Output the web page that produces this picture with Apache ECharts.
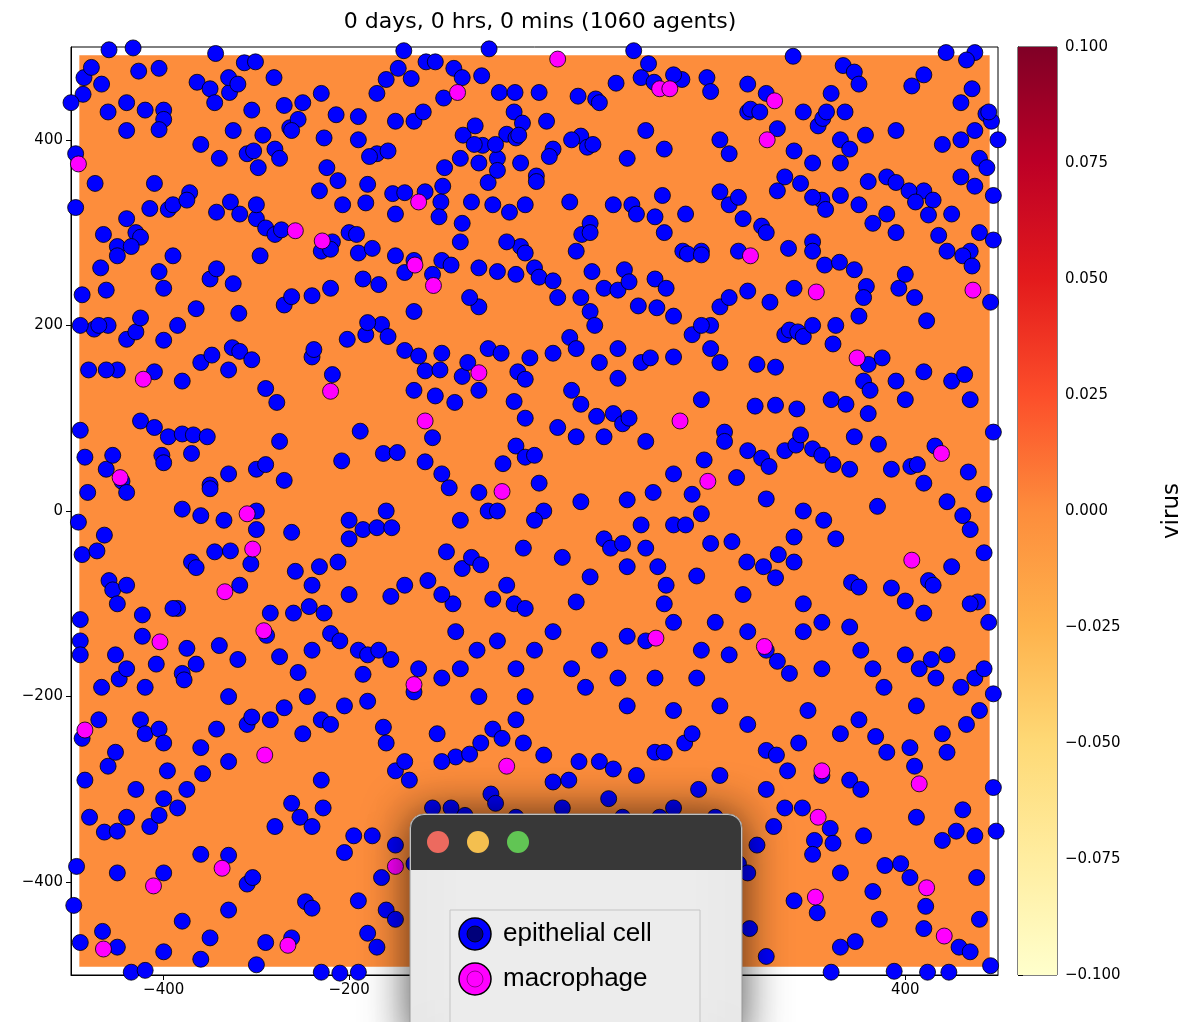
<!DOCTYPE html>
<html lang="en">
<head>
  <meta charset="UTF-8">
  <title>agents</title>
  <script src="https://cdn.jsdelivr.net/npm/echarts@6/dist/echarts.min.js"></script>
  <style>body{margin:0;background:#fff}</style>
</head>
<body>
  <div id="main" style="width:1194px;height:1022px"></div>
  <script>
    // 数据
    const titleText = '0 days, 0 hrs, 0 mins (1060 agents)'
    const axisTicks = [-400, -200, 0, 200, 400]
    const virusTicks = [-0.1, -0.075, -0.05, -0.025, 0, 0.025, 0.05, 0.075, 0.1]
    const fieldExtent = [-491, 491]
    const fieldValue = 0
    const legendNames = ['epithelial cell', 'macrophage']

    const macrophages = [[25,487],[-83,451],[135,455],[146,455],[259,442],[251,400],[-492,374],[-125,333],[-258,302],[-229,291],[-129,265],[-109,243],[233,275],[304,236],[473,238],[-422,142],[-220,129],[-60,149],[348,165],[-118,97],[157,97],[439,62],[-447,36],[-35,21],[187,32],[-310,-3],[-304,-41],[407,-53],[-334,-87],[-404,-141],[-292,-129],[131,-137],[248,-146],[-130,-187],[-485,-236],[-291,-263],[-30,-275],[310,-280],[415,-294],[306,-330],[-150,-383],[-337,-385],[-411,-404],[423,-406],[303,-416],[442,-458],[-465,-472],[-266,-468]]

    const epithelial = [
      // 400..500
      [-459,497],[-433,499],[-344,493],[-141,496],[-117,484],[-49,498],[107,496],[123,482],[279,490],[444,494],[475,494],[466,486],[-486,467],[-487,449],[-467,460],[-427,474],[-405,477],[-364,462],[-350,455],[-329,451],[-281,467],[-313,483],[-301,484],[-147,477],[-133,466],[-107,484],[-87,477],[-78,467],[-57,469],[-38,451],[-21,451],[5,451],[47,447],[66,444],[70,440],[88,461],[115,467],[129,462],[159,465],[186,467],[230,430],[233,433],[243,430],[262,412],[280,388],[306,415],[311,423],[315,430],[335,430],[330,400],[357,405],[333,480],[345,473],[407,458],[472,455],[460,440],[475,410],[487,428],[493,420],[-460,430],[-420,432],[-400,432],[-400,422],[-405,411],[-345,440],[-305,432],[-270,437],[-264,413],[-293,405],[-280,390],[-325,410],[-227,402],[-214,427],[-150,420],[-130,420],[-120,430],[-98,445],[-22,430],[-13,418],[13,420],[50,404],[57,392],[63,395],[-77,405],[-56,394],[-64,415],[-30,406],[-20,402],[-190,425],[-170,450],[-160,465],[-440,410],[-440,440],[-500,440],[-495,385],[-478,478],[-230,450],[-250,440],[-255,422],[-330,467],[-320,460],[190,452],[150,470],[230,460],[250,450],[290,430],[320,450],[350,460],[390,410],[420,470],[440,395],[460,400],[480,380],[500,400],[-360,395],[-340,380],[-310,385],[-190,400],[-170,385],[-80,380],[-60,375],[-40,380],[20,390],[40,400],[100,380],[120,410],[140,390],[200,400],[210,385],[300,375],[270,360],[310,335],[330,375],[340,390],[360,355],[380,360],[420,345],[430,335],[450,320],[470,280],[480,300],[495,340],[490,430],
      // 300..400
      [-495,327],[-488,233],[-474,353],[-465,298],[-468,262],[-462,238],[-450,285],[-430,300],[-440,315],[-425,295],[-415,326],[-410,353],[-395,325],[-390,330],[-372,343],[-375,335],[-343,322],[-328,333],[-318,320],[-300,315],[-290,305],[-280,298],[-273,303],[-298,370],[-303,388],[-275,380],[-262,410],[-232,345],[-207,330],[-218,290],[-224,370],[-212,356],[-182,332],[-180,352],[-178,382],[-158,388],[-153,342],[-140,343],[-118,344],[-99,350],[-97,370],[-101,333],[-103,317],[-78,310],[-68,333],[-45,330],[-27,322],[-50,354],[-40,367],[-17,405],[2,361],[2,355],[-65,395],[-42,395],[-15,375],[16,382],[38,333],[51,298],[60,310],[85,330],[105,330],[110,320],[130,317],[140,300],[163,320],[138,340],[200,344],[210,330],[220,338],[225,315],[245,307],[262,345],[287,353],[300,338],[314,325],[330,340],[350,330],[365,310],[380,320],[390,354],[404,345],[411,333],[425,319],[460,360],[475,350],[488,370],[495,292],[390,300],[300,290],[250,300],[160,280],[180,280],[60,300],[-10,330],[-80,290],[-130,270],[-150,320],[-200,300],[-230,280],[-300,330],
      // 200..300
      [-475,196],[-490,200],[-460,200],[-450,275],[-435,285],[-405,258],[-400,240],[-390,275],[-365,218],[-350,250],[-343,261],[-325,245],[-319,213],[-296,275],[-270,222],[-262,231],[-240,232],[-220,282],[-190,278],[-192,298],[-175,283],[-185,250],[-168,244],[-165,201],[-150,275],[-140,257],[-110,255],[-100,270],[-90,265],[-60,262],[-40,258],[-20,255],[-15,285],[-30,290],[-10,278],[0,262],[5,252],[20,248],[25,230],[45,280],[62,258],[75,240],[90,238],[97,260],[102,247],[112,221],[132,219],[130,250],[142,240],[150,210],[165,277],[180,276],[200,220],[210,230],[220,280],[230,237],[254,225],[274,283],[280,240],[300,280],[313,265],[329,268],[345,260],[358,242],[355,230],[393,240],[400,255],[410,230],[423,205],[436,297],[445,280],[462,275],[472,264],[492,225],[190,200],[270,190],[325,200],[350,210],[-130,215],[-220,240],[-60,220],[60,215],[-70,230],
      // 100..200
      [-470,200],[-450,152],[-481,152],[-462,152],[-440,185],[-430,193],[-425,208],[-410,150],[-400,184],[-380,140],[-385,200],[-360,160],[-348,168],[-326,176],[-318,172],[-330,152],[-305,163],[-290,132],[-278,117],[-240,166],[-238,174],[-218,147],[-202,185],[-182,190],[-180,203],[-158,188],[-140,173],[-125,167],[-118,151],[-102,152],[-107,124],[-86,117],[-100,170],[-78,145],[-72,160],[-50,175],[-36,170],[-18,150],[-10,142],[-5,165],[-22,118],[-10,100],[20,170],[38,187],[50,230],[65,200],[45,175],[40,130],[50,115],[67,102],[70,160],[90,143],[90,175],[115,160],[125,165],[150,166],[170,190],[180,200],[190,175],[200,160],[240,158],[260,155],[275,195],[284,193],[290,188],[300,200],[322,180],[355,140],[360,158],[375,165],[360,105],[283,110],[260,114],[238,113],[320,120],[336,115],[362,130],[390,140],[420,150],[450,140],[464,147],[470,120],[400,120],[180,120],[-130,130],[-60,130],
      // 0..100
      [-490,87],[-485,58],[-462,45],[-445,32],[-440,20],[-455,60],[-425,97],[-410,90],[-402,60],[-400,52],[-395,80],[-380,83],[-370,62],[-368,82],[-353,80],[-350,28],[-350,24],[-330,40],[-300,45],[-290,50],[-275,75],[-270,33],[-208,54],[-188,86],[-163,62],[-148,63],[-110,79],[-118,53],[-100,40],[-92,25],[-60,20],[-50,0],[-34,51],[-20,70],[-10,58],[0,60],[5,30],[10,0],[25,90],[45,80],[75,80],[85,105],[95,94],[102,100],[120,75],[128,20],[150,40],[170,18],[183,55],[205,85],[205,75],[218,36],[230,65],[245,57],[253,48],[270,65],[282,71],[287,82],[300,67],[310,60],[322,50],[340,45],[345,80],[371,72],[385,45],[406,48],[413,50],[420,30],[432,70],[445,10],[468,42],[495,85],[485,18],[462,-5],[-482,20],[-492,-12],[-380,2],[-300,0],[-200,-10],[-160,0],[-80,-10],[-40,0],[50,10],[100,12],[180,-3],[250,13],[370,5],[290,0],
      // -100..0
      [-488,-47],[-472,-43],[-490,-117],[-464,-26],[-459,-75],[-455,-85],[-440,-80],[-423,-112],[-385,-105],[-370,-55],[-365,-61],[-360,-5],[-335,-10],[-345,-44],[-328,-43],[-318,-80],[-306,-57],[-300,-20],[-262,-23],[-258,-65],[-240,-80],[-243,-103],[-232,-60],[-227,-110],[-212,-55],[-200,-30],[-185,-20],[-170,-18],[-154,-18],[-155,-92],[-140,-80],[-115,-75],[-95,-44],[-88,-100],[-78,-62],[-68,-50],[-58,-58],[-45,-95],[-30,-80],[-22,-100],[-12,-40],[-10,-105],[30,-50],[45,-98],[60,-71],[75,-30],[82,-40],[95,-35],[100,-60],[115,-15],[120,-40],[133,-60],[142,-80],[150,-15],[163,-15],[175,-70],[190,-35],[213,-33],[229,-55],[247,-60],[263,-47],[260,-72],[280,-28],[280,-55],[290,-100],[312,-10],[325,-30],[342,-77],[350,-82],[385,-83],[400,-97],[420,-110],[425,-75],[430,-80],[450,-60],[470,-20],[478,-98],[485,-45],[470,-100],[225,-90],[140,-100],[0,-10],[-100,-90],[-200,-90],[-260,-110],
      // -200..-100
      [-490,-140],[-490,-155],[-467,-190],[-452,-155],[-448,-181],[-440,-170],[-423,-135],[-408,-165],[-390,-105],[-380,-175],[-378,-182],[-375,-148],[-365,-165],[-340,-145],[-320,-160],[-289,-134],[-285,-110],[-275,-157],[-255,-174],[-240,-150],[-220,-132],[-210,-140],[-190,-150],[-185,-176],[-180,-155],[-168,-150],[-155,-160],[-130,-195],[-125,-170],[-100,-180],[-80,-170],[-85,-130],[-62,-150],[-40,-140],[-20,-170],[-10,-200],[0,-150],[20,-130],[40,-170],[55,-190],[70,-150],[90,-180],[100,-135],[120,-140],[150,-120],[175,-180],[180,-150],[195,-120],[210,-155],[230,-130],[250,-150],[262,-162],[275,-175],[290,-130],[310,-120],[340,-125],[352,-150],[365,-170],[377,-190],[400,-155],[415,-170],[428,-160],[433,-180],[445,-155],[460,-190],[475,-180],[485,-170],[490,-120],[-450,-100],[-420,-190],[-330,-200],[-60,-200],[130,-180],[310,-170],
      // -300..-200
      [-488,-245],[-485,-290],[-460,-275],[-452,-260],[-430,-300],[-425,-225],[-420,-240],[-405,-235],[-400,-250],[-396,-280],[-400,-310],[-375,-300],[-360,-255],[-358,-283],[-343,-235],[-330,-270],[-310,-230],[-305,-222],[-285,-225],[-270,-212],[-250,-240],[-245,-200],[-230,-225],[-220,-230],[-205,-210],[-163,-233],[-160,-250],[-150,-280],[-140,-270],[-135,-290],[-105,-240],[-85,-265],[-70,-262],[-58,-250],[-45,-235],[-35,-245],[-20,-225],[-12,-250],[10,-263],[20,-292],[37,-290],[48,-270],[70,-270],[85,-278],[110,-285],[130,-260],[140,-260],[162,-250],[170,-240],[200,-210],[230,-230],[250,-258],[261,-263],[273,-280],[285,-250],[295,-215],[310,-285],[330,-240],[350,-225],[368,-243],[380,-260],[405,-255],[410,-275],[412,-210],[440,-240],[445,-260],[466,-230],[480,-215],[495,-197],[-230,-290],[-100,-270],[100,-210],[150,-215],[-180,-205],[340,-290],[200,-285],[-470,-225],
      // -400..-300
      [-494,-383],[-480,-330],[-464,-346],[-450,-345],[-440,-330],[-415,-340],[-405,-328],[-385,-320],[-360,-370],[-330,-371],[-310,-402],[-304,-395],[-280,-340],[-262,-315],[-253,-330],[-240,-340],[-228,-320],[-205,-368],[-195,-350],[-175,-350],[-165,-395],[-150,-360],[-130,-380],[-118,-358],[-110,-320],[-90,-320],[-75,-328],[-60,-345],[-47,-305],[-42,-315],[-20,-330],[-10,-345],[30,-320],[60,-340],[80,-310],[95,-330],[100,-360],[120,-348],[135,-330],[150,-320],[177,-300],[195,-330],[210,-360],[220,-380],[230,-390],[240,-360],[258,-340],[270,-320],[289,-320],[302,-355],[319,-342],[322,-358],[330,-390],[352,-300],[355,-350],[365,-410],[378,-382],[395,-380],[405,-395],[412,-330],[440,-355],[455,-345],[462,-322],[475,-350],[477,-395],[498,-345],[495,-298],[300,-370],[250,-300],[-400,-390],[-450,-390],
      // -500..-400
      [-497,-425],[-490,-465],[-466,-453],[-435,-497],[-420,-495],[-400,-475],[-380,-442],[-360,-483],[-330,-430],[-300,-489],[-290,-465],[-262,-460],[-247,-421],[-240,-428],[-230,-497],[-210,-498],[-190,-497],[-190,-420],[-180,-455],[-170,-470],[-160,-430],[-150,-440],[-100,-430],[-60,-460],[-30,-480],[0,-470],[20,-450],[40,-450],[80,-420],[100,-470],[120,-430],[160,-460],[200,-480],[232,-450],[250,-480],[280,-420],[305,-433],[320,-497],[330,-470],[346,-464],[372,-440],[388,-496],[420,-450],[422,-426],[424,-497],[447,-497],[458,-470],[470,-475],[480,-440],[492,-490],[-450,-470],[-350,-460]
    ]

    const ylOrRd = ['#ffffcc', '#ffeda0', '#fed976', '#feb24c', '#fd8d3c', '#fc4e2a', '#e31a1c', '#bd0026', '#800026']
    const minus = v => String(v).replace('-', '\u2212')
    const fmt3 = v => minus(v.toFixed(3))
    const font = 'DejaVu Sans'

    const myChart = echarts.init(document.getElementById('main'))
    const option = {
      animation: false,
      textStyle: { fontFamily: font },
      title: {
        text: titleText, left: 535, top: 6, textAlign: 'center',
        textStyle: { fontSize: 22, fontWeight: 'normal', color: '#000', fontFamily: font }
      },
      grid: [
        { left: 71, top: 47, width: 927, height: 928, show: true, borderColor: '#000', borderWidth: 1, backgroundColor: '#fff' },
        { left: 1018, top: 47, width: 39, height: 928, show: true, borderColor: '#000', borderWidth: 1 }
      ],
      xAxis: [
        {
          gridIndex: 0, type: 'value', min: -500, max: 500, interval: 200,
          axisLine: { show: true, onZero: false, lineStyle: { color: '#000' } },
          axisTick: { show: true, length: 5, customValues: axisTicks, lineStyle: { color: '#000' } },
          axisLabel: { customValues: axisTicks, color: '#000', fontSize: 15, formatter: minus, margin: 8 },
          splitLine: { show: false }
        },
        { gridIndex: 1, type: 'value', min: 0, max: 1, show: false }
      ],
      yAxis: [
        {
          gridIndex: 0, type: 'value', min: -500, max: 500,
          axisLine: { show: true, onZero: false, lineStyle: { color: '#000' } },
          axisTick: { show: true, length: 5, customValues: axisTicks, lineStyle: { color: '#000' } },
          axisLabel: { customValues: axisTicks, color: '#000', fontSize: 15, formatter: minus, margin: 8 },
          splitLine: { show: false }
        },
        {
          gridIndex: 1, type: 'value', min: -0.1, max: 0.1, position: 'right',
          axisLine: { show: true, lineStyle: { color: '#000' } },
          axisTick: { show: true, length: 5, customValues: virusTicks, lineStyle: { color: '#000' } },
          axisLabel: { customValues: virusTicks, color: '#000', fontSize: 15, formatter: fmt3, margin: 8 },
          splitLine: { show: false }
        }
      ],
      series: [
        {
          // 背景场 (virus = 0)
          type: 'custom', xAxisIndex: 0, yAxisIndex: 0, z: 1,
          data: [[fieldExtent[0], fieldExtent[1], fieldValue]],
          renderItem: (params, api) => {
            const p0 = api.coord([api.value(0), api.value(1)])
            const p1 = api.coord([api.value(1), api.value(0)])
            return { type: 'rect', shape: { x: p0[0], y: p0[1], width: p1[0] - p0[0], height: p1[1] - p0[1] }, style: { fill: ylOrRd[4] } }
          }
        },
        {
          // colorbar
          type: 'custom', xAxisIndex: 1, yAxisIndex: 1,
          data: [[0, 1, -0.1, 0.1]],
          renderItem: (params, api) => {
            const p0 = api.coord([api.value(0), api.value(3)])
            const p1 = api.coord([api.value(1), api.value(2)])
            return {
              type: 'rect', shape: { x: p0[0], y: p0[1], width: p1[0] - p0[0], height: p1[1] - p0[1] },
              style: { fill: new echarts.graphic.LinearGradient(0, 1, 0, 0, ylOrRd.map((c, i) => ({ offset: i / (ylOrRd.length - 1), color: c }))) }
            }
          }
        },
        {
          name: legendNames[0], type: 'scatter', xAxisIndex: 0, yAxisIndex: 0, z: 3,
          data: epithelial, symbolSize: 16,
          itemStyle: { color: '#0000ff', borderColor: '#000', borderWidth: 0.8, opacity: 1 }
        },
        {
          name: legendNames[1], type: 'scatter', xAxisIndex: 0, yAxisIndex: 0, z: 4,
          data: macrophages, symbolSize: 16,
          itemStyle: { color: '#ff00ff', borderColor: '#000', borderWidth: 0.8, opacity: 1 }
        }
      ],
      graphic: [
        { type: 'text', x: 1172, y: 511, rotation: Math.PI / 2, style: { text: 'virus', fontSize: 23, fill: '#000', align: 'center', verticalAlign: 'middle', fontFamily: font } },
        // legend 窗口
        { type: 'rect', z: 100, shape: { x: 410, y: 814, width: 332, height: 230, r: [14, 14, 0, 0] }, style: { fill: '#ececec', shadowBlur: 45, shadowColor: 'rgba(0,0,0,0.7)', stroke: '#999', lineWidth: 1 } },
        { type: 'rect', z: 101, shape: { x: 411, y: 815, width: 330, height: 55, r: [13, 13, 0, 0] }, style: { fill: '#383838' } },
        { type: 'circle', z: 102, shape: { cx: 438, cy: 842, r: 11 }, style: { fill: '#ec6a5f' } },
        { type: 'circle', z: 102, shape: { cx: 478, cy: 842, r: 11 }, style: { fill: '#f4bf4f' } },
        { type: 'circle', z: 102, shape: { cx: 518, cy: 842, r: 11 }, style: { fill: '#61c554' } },
        { type: 'rect', z: 102, shape: { x: 450, y: 910, width: 250, height: 130 }, style: { fill: '#ececec', stroke: '#c4c4c4', lineWidth: 1 } },
        { type: 'circle', z: 103, shape: { cx: 475, cy: 934, r: 16 }, style: { fill: '#0000ff', stroke: '#000', lineWidth: 1.5 } },
        { type: 'circle', z: 104, shape: { cx: 475, cy: 934, r: 8 }, style: { fill: '#00007a', stroke: '#000', lineWidth: 0.8 } },
        { type: 'circle', z: 103, shape: { cx: 475, cy: 979, r: 16 }, style: { fill: '#ff00ff', stroke: '#000', lineWidth: 1.5 } },
        { type: 'circle', z: 104, shape: { cx: 475, cy: 979, r: 8 }, style: { fill: '#ff00ff', stroke: '#7a007a', lineWidth: 0.8 } },
        { type: 'text', z: 103, x: 503, y: 934, style: { text: legendNames[0], fontSize: 26, fill: '#000', verticalAlign: 'middle', fontFamily: 'Liberation Sans' } },
        { type: 'text', z: 103, x: 503, y: 979, style: { text: legendNames[1], fontSize: 26, fill: '#000', verticalAlign: 'middle', fontFamily: 'Liberation Sans' } }
      ]
    }
    myChart.setOption(option)
  </script>
</body>
</html>
